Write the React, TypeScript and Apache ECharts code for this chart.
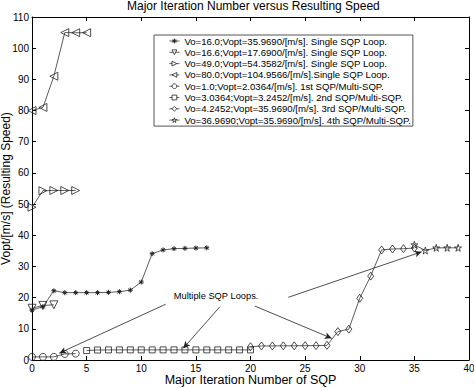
import React, { useEffect, useRef } from "react";
import * as echarts from "echarts";

const titleText = "Major Iteration Number versus Resulting Speed";
const xName = "Major Iteration Number of SQP";
const yName = "Vopt/[m/s] (Resulting Speed)";
const xTicks = { min: 0, max: 40, interval: 5 };
const yTicks = { min: 0, max: 110, interval: 10 };

const seriesNames = [
  "Vo=16.0;Vopt=35.9690/[m/s]. Single SQP Loop.",
  "Vo=16.6;Vopt=17.6900/[m/s]. Single SQP Loop.",
  "Vo=49.0;Vopt=54.3582/[m/s]. Single SQP Loop.",
  "Vo=80.0;Vopt=104.9566/[m/s].Single SQP Loop.",
  "Vo=1.0;Vopt=2.0364/[m/s]. 1st SQP/Multi-SQP.",
  "Vo=3.0364;Vopt=3.2452/[m/s]. 2nd SQP/Multi-SQP.",
  "Vo=4.2452;Vopt=35.9690/[m/s]. 3rd SQP/Multi-SQP.",
  "Vo=36.9690;Vopt=35.9690/[m/s]. 4th SQP/Multi-SQP.",
];

const s1X = [0, 1, 2, 3, 4, 5, 6, 7, 8, 9, 10, 11, 12, 13, 14, 15, 16];
const s1Y = [16.0, 17.1, 22.2, 21.6, 21.6, 21.6, 21.6, 21.7, 21.9, 22.4, 25.0, 34.1, 35.3, 35.7, 35.8, 35.9, 35.969];
const s2X = [0, 1, 2];
const s2Y = [16.6, 17.5, 17.69];
const s3X = [0, 1, 2, 3, 4];
const s3Y = [49.0, 54.3, 54.36, 54.36, 54.36];
const s4X = [0, 1, 2, 3, 4, 5];
const s4Y = [80.0, 81.0, 91.0, 105.0, 104.96, 104.96];
const s5X = [0, 1, 2, 3, 4];
const s5Y = [1.0, 1.0, 1.0, 1.95, 2.0364];
const s6X = [5, 6, 7, 8, 9, 10, 11, 12, 13, 14, 15, 16, 17, 18, 19, 20];
const s6Y = [3.0364, 3.2, 3.24, 3.245, 3.245, 3.245, 3.245, 3.245, 3.245, 3.245, 3.245, 3.245, 3.245, 3.245, 3.245, 3.2452];
const s7X = [20, 21, 22, 23, 24, 25, 26, 27, 28, 29, 30, 31, 32, 33, 34, 35];
const s7Y = [4.2452, 4.5, 4.5, 4.55, 4.55, 4.6, 4.6, 4.7, 9.1, 9.9, 19.8, 26.9, 35.3, 35.6, 35.7, 35.9];
const s8X = [35, 36, 37, 38, 39];
const s8Y = [36.969, 35.1, 35.969, 35.969, 35.969];

const annotationText = "Multiple SQP Loops.";
const annotationAt = [16.85, 20.5];
const arrowFrom = [
  [12.24, 17.9],
  [17.2, 17.1],
  [20.4, 17.3],
  [23.46, 20.1],
];
const arrowTo = [
  [2.5, 2.2],
  [13.85, 3.75],
  [27.43, 6.95],
  [35.67, 34.7],
];

const SYM_AST = "path://M-10,0L10,0M0,-10L0,10M-7,-7L7,7M-7,7L7,-7";
const SYM_TDOWN = "path://M-10,-8L10,-8L0,10Z";
const SYM_TRIGHT = "path://M-8,-10L10,0L-8,10Z";
const SYM_TLEFT = "path://M8,-10L-10,0L8,10Z";
const SYM_STAR =
  "path://M0,-10L2.25,-3.09L9.51,-3.09L3.63,1.18L5.88,8.09L0,3.82L-5.88,8.09L-3.63,1.18L-9.51,-3.09L-2.25,-3.09Z";

const FONT = "Liberation Sans, Arial, Helvetica, sans-serif";

function zip(xs: number[], ys: number[]) {
  return xs.map((x, i) => [x, ys[i]]);
}

export default function App() {
  const ref = useRef<HTMLDivElement>(null);
  useEffect(() => {
    if (!ref.current) return;
    const chart = echarts.init(ref.current, null, { renderer: "svg" });
    const lineColor = "#333";
    const hollow = { color: "#fff", borderColor: "#222", borderWidth: 0.8 };
    const mk = (
      idx: number,
      xs: number[],
      ys: number[],
      symbol: string,
      size: number | number[],
      extra: any = {}
    ) => ({
      type: "line",
      name: seriesNames[idx],
      data: zip(xs, ys),
      symbol,
      symbolSize: size,
      showAllSymbol: true,
      lineStyle: { color: lineColor, width: 0.8 },
      itemStyle: { color: "rgba(255,255,255,0)", borderColor: "#222", borderWidth: 0.8 },
      emphasis: { disabled: true },
      z: 2,
      ...extra,
    });
    const series: any[] = [
      mk(0, s1X, s1Y, SYM_AST, 5, {
        itemStyle: { color: "#222", borderColor: "#222", borderWidth: 1 },
      }),
      mk(1, s2X, s2Y, SYM_TDOWN, 8),
      mk(2, s3X, s3Y, SYM_TRIGHT, 8),
      mk(3, s4X, s4Y, SYM_TLEFT, 8),
      mk(4, s5X, s5Y, "circle", 7),
      mk(5, s6X, s6Y, "rect", 6),
      mk(6, s7X, s7Y, "diamond", [6, 8]),
      mk(7, s8X, s8Y, SYM_STAR, 7, {
        markLine: {
          silent: true,
          symbol: ["none", "arrow"],
          symbolSize: [5, 7],
          label: { show: false },
          lineStyle: { color: "#222", width: 0.8, type: "solid" },
          data: arrowFrom.map((f, i) => [{ coord: f }, { coord: arrowTo[i] }]),
        },
        markPoint: {
          silent: true,
          symbol: "circle",
          symbolSize: 0,
          data: [{ coord: annotationAt }],
          label: {
            show: true,
            position: "inside",
            formatter: annotationText,
            color: "#000",
            fontSize: 9.3,
            fontFamily: FONT,
          },
        },
      }),
    ];
    const axisCommon = {
      type: "value",
      axisLine: { show: true, onZero: false, lineStyle: { color: "#000", width: 1 } },
      axisTick: { show: true, inside: true, length: 4, lineStyle: { color: "#000" } },
      splitLine: { show: false },
    };
    chart.setOption({
      animation: false,
      backgroundColor: "#fff",
      textStyle: { fontFamily: FONT },
      title: {
        text: titleText,
        left: 127,
        top: 0,
        padding: 0,
        textStyle: { fontSize: 12, fontWeight: "normal", color: "#000", fontFamily: FONT },
      },
      legend: {
        orient: "vertical",
        left: 154,
        top: 35,
        itemWidth: 10,
        itemHeight: 6,
        itemGap: 1.3,
        padding: [1, 2, 1, 15],
        borderColor: "#555",
        borderWidth: 1,
        backgroundColor: "#fff",
        itemStyle: hollow,
        lineStyle: { color: lineColor, width: 0.8 },
        textStyle: { fontSize: 9.6, lineHeight: 10, color: "#000", fontFamily: FONT },
        data: seriesNames.map((n, i) =>
          i === 0 ? { name: n, itemStyle: { color: "#222", borderColor: "#222", borderWidth: 1 } } : { name: n }
        ),
        selectedMode: false,
      },
      grid: { left: 32, right: 5, top: 17, bottom: 28, containLabel: false, outerBoundsMode: "none" },
      xAxis: [
        {
          ...axisCommon,
          position: "bottom",
          ...xTicks,
          name: xName,
          nameLocation: "middle",
          nameGap: 13.5,
          nameMoveOverlap: false,
          nameTextStyle: { fontSize: 12.5, color: "#000", fontFamily: FONT },
          axisLabel: { fontSize: 10, color: "#000", margin: 3, fontFamily: FONT },
        },
        {
          ...axisCommon,
          position: "top",
          ...xTicks,
          axisLabel: { show: false },
        },
      ],
      yAxis: [
        {
          ...axisCommon,
          position: "left",
          ...yTicks,
          name: yName,
          nameLocation: "middle",
          nameGap: 20,
          nameMoveOverlap: false,
          nameTextStyle: { fontSize: 12, color: "#000", fontFamily: FONT },
          axisLabel: { fontSize: 10, color: "#000", margin: 3, fontFamily: FONT },
        },
        {
          ...axisCommon,
          position: "right",
          ...yTicks,
          axisLabel: { show: false },
        },
      ],
      series,
    });
    return () => chart.dispose();
  }, []);
  return (
    <div
      ref={ref}
      style={{ position: "absolute", left: 0, top: 0, width: 474, height: 388, background: "#fff" }}
    />
  );
}
